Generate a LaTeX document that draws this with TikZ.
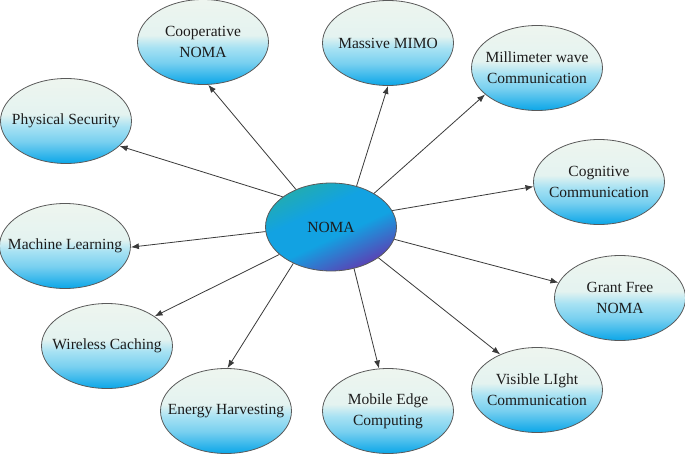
\documentclass[tikz,border=0pt]{standalone}
\usepackage{fontspec}
\setmainfont{Liberation Serif}
\usepackage{xcolor}
\usepackage{tikz}
\usetikzlibrary{shapes.geometric, arrows.meta, positioning}
\definecolor{nmTop}{HTML}{EEF5EF}
\definecolor{nmPale}{HTML}{E4F3F0}
\definecolor{nmMid}{HTML}{A8E2F3}
\definecolor{nmSky}{HTML}{0AA6E8}
\definecolor{nmTeal}{HTML}{22ACB0}
\definecolor{nmBlue}{HTML}{12A2E2}
\definecolor{nmViolet}{HTML}{5E3DB2}
\definecolor{nmEdge}{HTML}{5A5A5A}
\definecolor{nmInk}{HTML}{1C1C1C}
\definecolor{nmLine}{HTML}{3A3A3A}
\pgfdeclareverticalshading{bubbleshade}{100bp}{color(0bp)=(nmSky); color(25bp)=(nmSky);
  color(38bp)=(nmMid!70!nmSky); color(47bp)=(nmMid); color(54bp)=(nmPale); color(75bp)=(nmTop); color(100bp)=(nmTop)}
\pgfdeclareverticalshading{hubshade}{100bp}{color(0bp)=(nmViolet); color(25bp)=(nmViolet);
  color(45bp)=(nmBlue); color(60bp)=(nmBlue); color(75bp)=(nmTeal); color(100bp)=(nmTeal)}

\begin{document}
\begin{tikzpicture}[
  x=1pt, y=-1pt,
  font=\fontsize{15.5}{21}\selectfont,
  bubble/.style={ellipse, draw=nmEdge, line width=0.8pt, shade, shading=bubbleshade,
                 minimum width=131pt, minimum height=85pt, inner xsep=-30pt, inner ysep=-10pt,
                 align=center, text=nmInk},
  hub/.style={ellipse, draw=nmEdge, line width=0.8pt, shade, shading=hubshade, shading angle=25,
              minimum width=131pt, minimum height=88pt, inner sep=0pt, align=center, text=nmInk},
  arr/.style={-{Latex[length=8pt,width=6pt]}, draw=nmLine, line width=0.8pt},
]
\useasboundingbox[fill=white] (0,0) rectangle (685,457);

% ---- hub ----
\node[hub] (noma) at (331,227) {NOMA};

% ---- top row ----
\node[bubble] (coop) at (203,42) {Cooperative\\NOMA};
\node[bubble] (mimo) at (388,43) {Massive MIMO};
\node[bubble] (mmw) at (537,68) {Millimeter wave\\Communication};

% ---- left side ----
\node[bubble] (phys) at (66,121) {Physical Security};
\node[bubble] (ml) at (65,246) {Machine Learning};
\node[bubble] (cache) at (107,346) {Wireless Caching};

% ---- right side ----
\node[bubble] (cogn) at (599,182) {Cognitive\\Communication};
\node[bubble] (gf) at (620,298) {Grant Free\\NOMA};
\node[bubble] (vlc) at (537,390) {Visible LIght\\Communication};

% ---- bottom row ----
\node[bubble] (eh) at (226,411) {Energy Harvesting};
\node[bubble] (mec) at (388,411) {Mobile Edge\\Computing};

% ---- arrows ----
\draw[arr] (noma.133) -- (coop.277);
\draw[arr] (noma.58) -- (mimo.270);
\draw[arr] (noma.38) -- (mmw.207);
\draw[arr] (noma.148) -- (phys.335);
\draw[arr] (noma.15) -- (cogn.184);
\draw[arr] (noma.184) -- (ml.359);
\draw[arr] (noma.349) -- (gf.166);
\draw[arr] (noma.208) -- (cache.32);
\draw[arr] (noma.327) -- (vlc.136);
\draw[arr] (noma.224) -- (eh.88);
\draw[arr] (noma.299) -- (mec.102);
\end{tikzpicture}
\end{document}
